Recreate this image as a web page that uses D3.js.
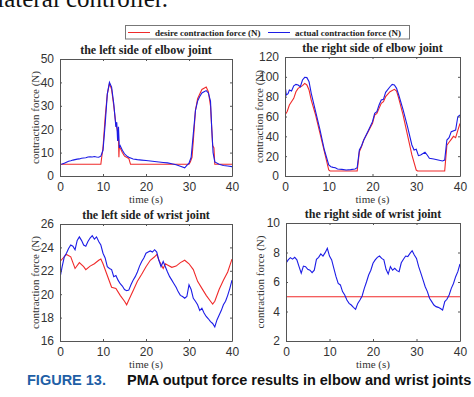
<!DOCTYPE html>
<html>
<head>
<meta charset="utf-8">
<script src="https://cdn.jsdelivr.net/npm/d3@7"></script>
<style>
  html, body { margin: 0; padding: 0; background: #fff; }
  svg { display: block; }
</style>
</head>
<body>
<svg id="chart" width="474" height="397"></svg>
<script>
// ---------------- DATA ----------------
const timeTicks = [0, 10, 20, 30, 40];
const leftElbowTicks = [0, 10, 20, 30, 40, 50];
const rightElbowTicks = [0, 20, 40, 60, 80, 100, 120];
const leftWristTicks = [16, 18, 20, 22, 24, 26];
const rightWristTicks = [2, 4, 6, 8, 10];

const panelTitles = ["the left side of elbow joint", "the right side of elbow joint",
                     "the left side of wrist joint", "the right side of wrist joint"];
const seriesNames = ["desire contraction force (N)", "actual contraction force (N)"];

// left elbow [time s, force N]
const leftElbowDesired = [[0,5],[9.5,5],[9.7,8],[10,12],[10.5,25],[11,35],[11.5,39.5],[12,37],[12.5,30],
  [13,22],[13.3,20],[13.6,16],[13.7,8],[13.8,13],[14,12],[14.5,10],[15,8.5],[16,7.5],[16.4,5],[30,5],
  [30.3,6],[30.7,8],[31,15],[31.5,28],[32,33],[32.5,35],[33,37],[33.5,37.5],[34,38],[34.5,36],[35,30],
  [35.3,20],[35.5,13],[35.8,12],[36,5],[40,5]];
const leftElbowActual = [[0,5],[0.5,5.1],[1,5.5],[1.5,5.9],[2,6.3],[2.5,6.5],[3,6.8],[3.5,7],[4,7.2],[4.5,7.3],
  [5,7.6],[5.5,7.7],[6,7.8],[6.5,8.1],[7,8.2],[7.5,8.1],[8,8.3],[8.5,8.1],[9,8],[9.5,8.5],[10,11],[10.5,22],
  [11,35],[11.5,40],[12,38],[12.5,31],[13,21],[13.2,23],[13.4,15],[13.6,21],[13.8,12],[14,13],[14.5,11],
  [15,9.5],[15.5,8.6],[16,8],[17,7.3],[18,7],[19,6.8],[20,6.6],[21,6.4],[22,6.2],[23,6],[24,5.8],[25,5.6],
  [26,5.2],[27,4.8],[28,4.2],[29,3.5],[29.5,4.5],[30,5.5],[30.5,8],[31,18],[31.5,28],[32,32],[32.5,34],
  [33,35.5],[33.5,36],[34,36.5],[34.5,35.5],[35,32],[35.3,20],[35.6,10],[35.8,8],[36,6],[37,5],[38,4.5],
  [39,4.3],[40,4]];

// right elbow
const rightElbowDesired = [[0,61.5],[0.5,65],[1,71.6],[2,78.3],[2.5,85],[3,88.4],[4,91.1],[4.5,93.4],[5,91.8],
  [5.5,86.7],[6,76.6],[7,61.5],[8,43],[9,24.5],[10,6],[10.3,5],[16.5,5],[17,24.5],[17.5,29.6],[18,36.3],
  [19,44.7],[20,53.1],[20.5,61.5],[21,63.2],[21.5,68.2],[22,73.3],[22.5,75],[23,80],[24,85],[25,87.4],
  [25.5,85.7],[26,78.3],[27,61.5],[28,41.3],[29,21.2],[30,6],[30.3,5],[36.5,5],[37,31],[37.5,34],[38,37],
  [38.5,40],[39,38.7],[39.5,46],[40,53]];
const rightElbowActual = [[0,92],[0.3,81.7],[0.7,83],[1,86.7],[1.5,85.7],[2,91],[2.5,92.4],[3,91.8],[3.5,90],
  [4,96.8],[4.5,99.5],[5,99.2],[5.5,95],[6,83.4],[7,64.9],[8,46.4],[9,26.2],[10,11.1],[10.5,9.4],[11,8.7],
  [11.5,8.4],[12,7],[13,6.7],[14,6],[15,6.4],[16,7],[16.5,8.4],[17,26.2],[17.5,30.6],[18,36.3],[19,45.4],
  [20,54.8],[20.5,63.2],[21,64.9],[21.5,71.6],[22,76.6],[22.5,77.3],[23,84.4],[24,90],[24.5,92.4],[25,91.8],
  [25.5,88.4],[26,81.7],[27,66.6],[28,49.7],[29,31.3],[29.5,26.2],[30,27],[30.5,20.5],[31,21.2],[32,23.9],
  [32.5,21.2],[33,17.8],[34,17.1],[35,16.1],[36,15.1],[36.5,16.1],[37,36.3],[37.5,38.7],[38,44.7],[39,46.4],
  [39.5,59.8],[40,61.5]];

// left wrist
const leftWristDesired = [[0,22.8],[1.5,23.4],[2.5,23.2],[3.5,22.2],[4.5,22.7],[5.5,22.35],[6,22.1],[7,22.4],
  [8,22.6],[9,22.9],[9.5,23],[10,22.6],[11,21.6],[12,20.6],[13,20.5],[14,19.9],[15,19.4],[15.5,19.1],
  [16,19.5],[17,20.3],[18,21.1],[19,21.7],[20,22.35],[21,22.9],[22,23.2],[22.5,23.4],[23,22.9],[24,22.2],
  [24.5,22.6],[25,22.5],[26,22.3],[27,22.4],[28,22.7],[29,22.9],[30,22.6],[31,22.1],[32,21.1],[33,20.5],
  [34,19.9],[35,19.4],[35.5,19.15],[36,19.4],[37,20.4],[38,21.2],[39,21.9],[40,23]];
const leftWristActual = [[0,21.4],[0.5,22.35],[1,23.2],[1.5,23.5],[2,23.9],[2.5,24.2],[3,24.1],[3.5,23.8],
  [4,24.6],[4.5,24.9],[5,24.6],[5.5,24.2],[6,24.1],[6.5,24.5],[7,24.8],[7.5,25],[8,24.7],[8.5,24.9],
  [9,24.5],[9.5,24.2],[10,23.5],[10.5,23.1],[11,22.35],[11.5,22.2],[12,22.1],[12.5,21.5],[13,21.6],
  [13.5,21.2],[14,20.9],[14.5,20.7],[15,20.4],[15.5,20.3],[16,20.35],[16.5,20.8],[17,21.2],[17.5,21.5],
  [18,21.9],[18.5,22.4],[19,22.8],[19.5,23.1],[20,23.5],[20.5,23.6],[21,23.7],[21.5,23.6],[22,23.8],
  [22.5,23.6],[23,22.9],[23.5,22.35],[24,22.8],[24.5,22.35],[25,21.9],[25.5,21.5],[26,21.2],[26.5,20.9],
  [27,20.6],[27.5,20.2],[28,19.9],[28.5,19.8],[29,19.65],[29.5,19.8],[30,20.8],[30.5,20.4],[31,19.65],
  [31.5,19.4],[32,19.1],[32.5,18.6],[33,18.8],[33.5,18.4],[34,18.1],[34.5,17.9],[35,17.65],[35.5,17.5],
  [36,17.2],[36.5,17.8],[37,18.2],[37.5,18.6],[38,19.1],[38.5,19.4],[39,19.9],[39.5,20.5],[40,21.2]];

// right wrist
const rightWristDesired = [[0,5],[40,5]];
const rightWristActual = [[0,7.27],[0.5,7.5],[1,7.65],[1.5,7.55],[2,7.67],[2.5,7.5],[3,7.04],[3.5,6.6],[4,7.08],
  [4.5,7.04],[5,6.86],[5.5,6.8],[6,6.63],[6.5,6.8],[7,7.54],[7.5,7.67],[8,7.9],[8.5,7.76],[9,7.99],[9.5,8.28],
  [10,7.76],[10.5,7.5],[11,6.93],[11.5,6.36],[12,5.9],[12.5,5.8],[13,5.35],[13.5,5.12],[14,4.78],[14.5,4.55],
  [15,4.44],[15.5,4.28],[16,4.15],[16.5,4.55],[17,4.78],[17.5,5.05],[18,5.57],[18.5,6],[19,6.47],[19.5,6.8],
  [20,7.27],[20.5,7.5],[21,7.67],[21.5,7.76],[22,7.6],[22.5,7.5],[23,6.86],[23.5,6.54],[24,7.04],[24.5,6.8],
  [25,6.93],[25.5,6.77],[26,6.7],[26.5,7.3],[27,7.54],[27.5,7.76],[28,7.72],[28.5,7.94],[29,8.12],[29.5,7.83],
  [30,7.6],[30.5,7.04],[31,6.6],[31.5,6.14],[32,5.68],[32.5,5.35],[33,4.9],[33.5,4.67],[34,4.44],[34.5,4.33],
  [35,4.28],[35.5,4.2],[36,4.1],[36.5,4.67],[37,4.83],[37.5,5.12],[38,5.57],[38.5,5.9],[39,6.36],[39.5,6.7],
  [40,7.22]];

// ---------------- DRAWING ----------------
const svg = d3.select("#chart");
const RED = "#f02a2a", BLUE = "#1c1ce6";
const serif = "'Liberation Serif', 'DejaVu Serif', serif";
const sans = "'Liberation Sans', Arial, sans-serif";

// text from the page above the figure, cut at the top edge as in the reference
svg.append("text").attr("x", 168).attr("y", 7).attr("text-anchor", "end")
  .attr("font-family", serif).attr("font-size", 25).attr("fill", "#111")
  .text("bilateral controller.");

const panels = [
  {title: panelTitles[0], box: [60, 232, 59, 176], yDom: [0, 50], yTicks: leftElbowTicks, d: leftElbowDesired, a: leftElbowActual, ylx: 35},
  {title: panelTitles[1], box: [285, 460, 57, 176], yDom: [0, 120], yTicks: rightElbowTicks, d: rightElbowDesired, a: rightElbowActual, ylx: 259},
  {title: panelTitles[2], box: [60, 232, 224, 341], yDom: [16, 26], yTicks: leftWristTicks, d: leftWristDesired, a: leftWristActual, ylx: 35},
  {title: panelTitles[3], box: [286, 460, 223, 341], yDom: [2, 10], yTicks: rightWristTicks, d: rightWristDesired, a: rightWristActual, ylx: 260}
];

panels.forEach(p => {
  const [x0, x1, y0, y1] = p.box;
  const x = d3.scaleLinear().domain([0, 40]).range([x0, x1]);
  const y = d3.scaleLinear().domain(p.yDom).range([y1, y0]);
  const g = svg.append("g");

  const clipId = "clip" + x0 + "_" + y0;
  svg.append("clipPath").attr("id", clipId).append("rect")
    .attr("x", x0).attr("y", y0).attr("width", x1 - x0).attr("height", y1 - y0);
  const line = d3.line().x(d => x(d[0])).y(d => y(d[1]));
  const lg = g.append("g").attr("clip-path", `url(#${clipId})`);
  lg.append("path").datum(p.d).attr("d", line).attr("fill", "none").attr("stroke", RED).attr("stroke-width", 1.1);
  lg.append("path").datum(p.a).attr("d", line).attr("fill", "none").attr("stroke", BLUE).attr("stroke-width", 1.1);

  const axStyle = sel => {
    sel.selectAll("path.domain").attr("stroke", "#555");
    sel.selectAll(".tick line").attr("stroke", "#555");
    sel.selectAll(".tick text").attr("font-family", sans).attr("font-size", 12).attr("fill", "#333");
  };
  g.append("g").attr("transform", `translate(0,${y1})`)
    .call(d3.axisBottom(x).tickValues(timeTicks).tickSizeInner(-2).tickSizeOuter(0).tickPadding(6))
    .call(axStyle);
  g.append("g").attr("transform", `translate(0,${y0})`)
    .call(d3.axisTop(x).tickValues(timeTicks).tickSizeInner(-2).tickSizeOuter(0).tickFormat(""))
    .call(axStyle);
  g.append("g").attr("transform", `translate(${x0},0)`)
    .call(d3.axisLeft(y).tickValues(p.yTicks).tickSizeInner(-2).tickSizeOuter(0).tickPadding(6))
    .call(axStyle);
  g.append("g").attr("transform", `translate(${x1},0)`)
    .call(d3.axisRight(y).tickValues(p.yTicks).tickSizeInner(-2).tickSizeOuter(0).tickFormat(""))
    .call(axStyle);

  g.append("text").attr("x", (x0 + x1) / 2).attr("y", y0 - 5).attr("text-anchor", "middle")
    .attr("font-family", serif).attr("font-weight", "bold").attr("font-size", 12).attr("fill", "#222")
    .text(p.title);
  g.append("text").attr("x", (x0 + x1) / 2).attr("y", y1 + 27).attr("text-anchor", "middle")
    .attr("font-family", serif).attr("font-size", 11).attr("fill", "#333")
    .text("time (s)");
  g.append("text").attr("transform", `translate(${p.ylx},${(y0 + y1) / 2}) rotate(-90)`)
    .attr("text-anchor", "middle").attr("dominant-baseline", "central")
    .attr("font-family", serif).attr("font-size", 11).attr("fill", "#333")
    .text("contraction force (N)");
});

// legend
const leg = svg.append("g");
leg.append("rect").attr("x", 125.5).attr("y", 25.5).attr("width", 284).attr("height", 13.5)
  .attr("fill", "#fff").attr("stroke", "#777").attr("stroke-width", 1);
[[128, RED, seriesNames[0]], [268, BLUE, seriesNames[1]]].forEach(([lx, c, t]) => {
  leg.append("line").attr("x1", lx).attr("x2", lx + 22).attr("y1", 32.5).attr("y2", 32.5)
    .attr("stroke", c).attr("stroke-width", 1);
  leg.append("text").attr("x", lx + 27).attr("y", 35.5).attr("font-family", serif)
    .attr("font-weight", "bold").attr("font-size", 9).attr("fill", "#222").text(t);
});

// caption
svg.append("text").attr("x", 27).attr("y", 385).attr("font-family", sans).attr("font-weight", "bold")
  .attr("font-size", 14.5).attr("fill", "#1f5fa6").text("FIGURE 13.");
svg.append("text").attr("x", 127).attr("y", 385).attr("font-family", sans).attr("font-weight", "bold")
  .attr("font-size", 14.5).attr("fill", "#111").text("PMA output force results in elbow and wrist joints");
</script>
</body>
</html>
